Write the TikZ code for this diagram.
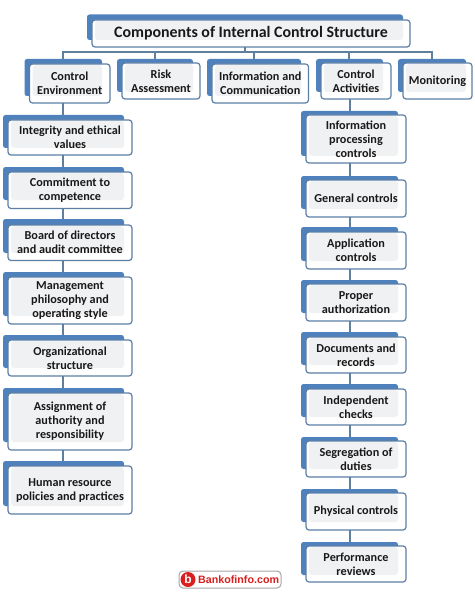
\documentclass[tikz,border=0pt]{standalone}
\usepackage{fontspec}
\setmainfont{Carlito}
\newfontfamily\logofont{Liberation Sans}
\definecolor{backblue}{HTML}{4F81BD}
\definecolor{edgeblue}{HTML}{5C7FA6}
\definecolor{innergray}{HTML}{F0F1F3}
\definecolor{linkblue}{HTML}{5F7F9F}
\definecolor{logored}{HTML}{D9201F}
\tikzset{
  backbox/.style={fill=backblue,draw=none,rounded corners=2.5pt,inner sep=0pt,outer sep=0pt},
  frontbox/.style={fill=white,draw=edgeblue,line width=1.2pt,rounded corners=3pt,inner sep=0pt,outer sep=0pt,align=center,text=black!90,font=\bodyfont},
  link/.style={draw=linkblue,line width=1.2pt},
}
\newcommand{\bodyfont}{\fontsize{12.2}{14}\selectfont\bfseries}
% name, fx0, fx1, ftop, fbot, bx1, btop, bbot, text
\newcommand{\comp}[9]{%
  \pgfmathsetmacro{\fw}{#3-#2}\pgfmathsetmacro{\fh}{#5-#4}
  \pgfmathsetmacro{\fcx}{(#2+#3)/2}\pgfmathsetmacro{\fcy}{(#4+#5)/2}
  \pgfmathsetmacro{\bw}{#6-#2+5}\pgfmathsetmacro{\bh}{#8-#7}
  \pgfmathsetmacro{\bcx}{(#2-5+#6)/2}\pgfmathsetmacro{\bcy}{(#7+#8)/2}
  \pgfmathsetmacro{\gr}{#3-#6}\pgfmathsetmacro{\gb}{#5-#8}
  \node[backbox,minimum width=\bw pt,minimum height=\bh pt] (#1-b) at (\bcx,\bcy) {};
  \node[frontbox,minimum width=\fw pt,minimum height=\fh pt,
    path picture={\fill[innergray] ([xshift=3pt,yshift=-1pt]path picture bounding box.north west)
      rectangle ([xshift=-\gr pt,yshift=\gb pt]path picture bounding box.south east);}]
    (#1) at (\fcx,\fcy) {#9};
}
\begin{document}
\begin{tikzpicture}[x=1pt,y=-1pt]
\useasboundingbox (0,0) rectangle (474,596);
\coordinate (busL) at (63,52);
\coordinate (busR) at (432,52);
\coordinate (titleStem) at (245,0);
\coordinate (riskStem) at (155,0);
\coordinate (infoStem) at (254,0);
\coordinate (actStem) at (349,0);
\coordinate (leftStem) at (63,0);
\coordinate (rightStem) at (350,0);

\comp{title}{92}{410}{20}{47}{403}{14.5}{40}{\fontsize{15.9}{18}\selectfont\bfseries Components of Internal Control Structure}
\comp{env}{29.5}{110}{64}{103}{102}{59}{96}{Control\\Environment}
\comp{risk}{122}{200}{63}{99}{193}{59}{92}{Risk\\Assessment}
\comp{info}{212}{308.5}{64}{103}{301}{59}{96}{Information and\\Communication}
\comp{act}{321}{391}{63}{99}{383}{59}{92}{Control\\Activities}
\comp{mon}{403}{472}{63}{99}{466}{59}{92}{Monitoring}

\comp{l1}{8}{132}{120}{155}{124}{115}{148}{Integrity and ethical\\values}
\comp{l2}{8}{132}{172}{208.5}{124}{167}{200}{Commitment to\\competence}
\comp{l3}{8}{132}{225}{260.5}{124}{219}{253}{Board of directors\\and audit committee}
\comp{l4}{8}{132}{277}{324}{124}{272}{316}{Management\\philosophy and\\operating style}
\comp{l5}{8}{132}{340}{376}{124}{335}{368}{Organizational\\structure}
\comp{l6}{8}{132}{393}{450}{124}{388}{442}{Assignment of\\authority and\\responsibility}
\comp{l7}{8}{132}{466}{514}{124}{461}{506}{Human resource\\policies and practices}

\comp{r1}{306}{406}{115}{163}{398}{111}{156}{Information\\processing\\controls}
\comp{r2}{306}{406}{180}{217}{398}{176}{209}{General controls}
\comp{r3}{306}{406}{232}{269}{398}{227}{261}{Application\\controls}
\comp{r4}{306}{406}{284}{321}{398}{280}{313}{Proper\\authorization}
\comp{r5}{306}{406}{337}{373}{398}{332}{365}{Documents and\\records}
\comp{r6}{306}{406}{389}{425}{398}{384}{417}{Independent\\checks}
\comp{r7}{306}{406}{441}{477}{398}{437}{469}{Segregation of\\duties}
\comp{r8}{306}{406}{493}{530}{398}{489}{522}{Physical controls}
\comp{r9}{306}{406}{546}{582}{398}{542}{575}{Performance\\reviews}

% connectors
\draw[link] (title.south -| titleStem) -- (busL -| titleStem);
\draw[link] (env-b.north -| leftStem) -- (busL) -- (busR) -- (mon-b.north -| busR);
\draw[link] (busL -| riskStem) -- (risk-b.north -| riskStem);
\draw[link] (busL -| infoStem) -- (info-b.north -| infoStem);
\draw[link] (busL -| actStem) -- (act-b.north -| actStem);
\draw[link] (env.south -| leftStem) -- (l1-b.north -| leftStem);
\draw[link] (l1.south -| leftStem) -- (l2-b.north -| leftStem);
\draw[link] (l2.south -| leftStem) -- (l3-b.north -| leftStem);
\draw[link] (l3.south -| leftStem) -- (l4-b.north -| leftStem);
\draw[link] (l4.south -| leftStem) -- (l5-b.north -| leftStem);
\draw[link] (l5.south -| leftStem) -- (l6-b.north -| leftStem);
\draw[link] (l6.south -| leftStem) -- (l7-b.north -| leftStem);
\draw[link] (act.south -| rightStem) -- (r1-b.north -| rightStem);
\draw[link] (r1.south -| rightStem) -- (r2-b.north -| rightStem);
\draw[link] (r2.south -| rightStem) -- (r3-b.north -| rightStem);
\draw[link] (r3.south -| rightStem) -- (r4-b.north -| rightStem);
\draw[link] (r4.south -| rightStem) -- (r5-b.north -| rightStem);
\draw[link] (r5.south -| rightStem) -- (r6-b.north -| rightStem);
\draw[link] (r6.south -| rightStem) -- (r7-b.north -| rightStem);
\draw[link] (r7.south -| rightStem) -- (r8-b.north -| rightStem);
\draw[link] (r8.south -| rightStem) -- (r9-b.north -| rightStem);

% logo
\node[draw=black!35,fill=white,line width=1pt,rounded corners=4pt,minimum width=102pt,minimum height=17pt,inner sep=0pt] (logo) at (230,579.5) {};
\node[fill=logored,circle,minimum size=15pt,inner sep=0pt,text=white,font=\logofont\fontsize{12}{12}\selectfont\bfseries] (logob) at (188,579.5) {b};
\node[anchor=west,inner sep=0pt,text=logored,font=\logofont\fontsize{10.7}{10}\selectfont\bfseries] (logot) at (198,579.5) {Bankofinfo.com};
\end{tikzpicture}
\end{document}
